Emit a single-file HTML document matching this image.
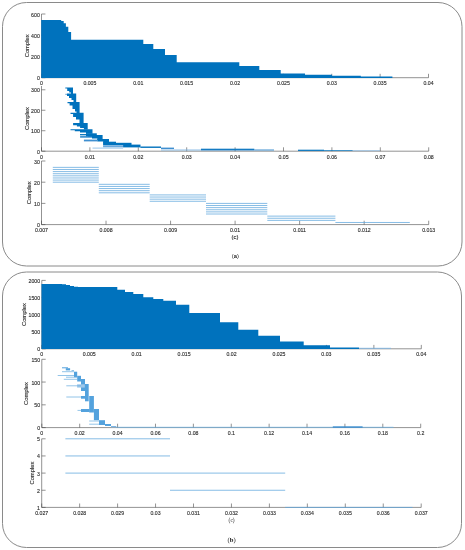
<!DOCTYPE html>
<html><head><meta charset="utf-8"><title>Figure</title>
<style>
html,body{margin:0;padding:0;background:#fff;}
svg{display:block}
.t{font-family:"Liberation Sans",sans-serif;font-size:5.8px;fill:#2a2a2a;stroke:#2a2a2a;stroke-width:0.12px;}
.yl{font-family:"Liberation Sans",sans-serif;font-size:5.8px;fill:#2a2a2a;stroke:#2a2a2a;stroke-width:0.12px;}
.s{font-family:"Liberation Serif",serif;font-size:5.4px;fill:#2a2a2a;}
.capa{font-family:"Liberation Sans",sans-serif;font-size:5.8px;fill:#222;}
.cap{font-family:"Liberation Serif",serif;font-size:6.6px;fill:#222;}
</style></head><body>
<svg width="465" height="550" viewBox="0 0 465 550">
<rect width="465" height="550" fill="#fff"/>
<rect x="2.5" y="2.5" width="459.5" height="263.5" rx="24" ry="24" fill="#fff" stroke="#8a8a8a" stroke-width="1"/>
<path d="M41.5 14V77.7H428.5" fill="none" stroke="#4a4a4a" stroke-width="0.6"/>
<path d="M41.50 77.7v-3.9M89.88 77.7v-3.9M138.25 77.7v-3.9M186.62 77.7v-3.9M235.00 77.7v-3.9M283.38 77.7v-3.9M331.75 77.7v-3.9M380.12 77.7v-3.9M428.50 77.7v-3.9M41.5 77.70h3.9M41.5 56.47h3.9M41.5 35.23h3.9M41.5 14.00h3.9" fill="none" stroke="#4a4a4a" stroke-width="0.6"/>
<text transform="translate(41.50 85.10) scale(0.9 1)" text-anchor="middle" class="t">0</text>
<text transform="translate(89.88 85.10) scale(0.9 1)" text-anchor="middle" class="t">0.005</text>
<text transform="translate(138.25 85.10) scale(0.9 1)" text-anchor="middle" class="t">0.01</text>
<text transform="translate(186.62 85.10) scale(0.9 1)" text-anchor="middle" class="t">0.015</text>
<text transform="translate(235.00 85.10) scale(0.9 1)" text-anchor="middle" class="t">0.02</text>
<text transform="translate(283.38 85.10) scale(0.9 1)" text-anchor="middle" class="t">0.025</text>
<text transform="translate(331.75 85.10) scale(0.9 1)" text-anchor="middle" class="t">0.03</text>
<text transform="translate(380.12 85.10) scale(0.9 1)" text-anchor="middle" class="t">0.035</text>
<text transform="translate(428.50 85.10) scale(0.9 1)" text-anchor="middle" class="t">0.04</text>
<text transform="translate(39.80 80.20) scale(0.9 1)" text-anchor="end" class="t">0</text>
<text transform="translate(39.80 58.97) scale(0.9 1)" text-anchor="end" class="t">200</text>
<text transform="translate(39.80 37.73) scale(0.9 1)" text-anchor="end" class="t">400</text>
<text transform="translate(39.80 16.50) scale(0.9 1)" text-anchor="end" class="t">600</text>
<text transform="translate(28.5 45.85) rotate(-90)" text-anchor="middle" class="yl">Complex</text>
<path d="M41.2 77.95V19.9H61.2V21H63.7V23.3H65.9V26.8H68.3V31.9H71.1V39.7H143.3V44H153.3V49H165V55H176.7V62.3H239.3V66H259.3V70H280.7V73.4H305V74.7H332V75.8H360.8V76.5H392.4V77.95Z" fill="#0072BD"/>
<path d="M41.5 86V151.2H428.7" fill="none" stroke="#4a4a4a" stroke-width="0.6"/>
<path d="M41.50 151.2v-3.9M89.90 151.2v-3.9M138.30 151.2v-3.9M186.70 151.2v-3.9M235.10 151.2v-3.9M283.50 151.2v-3.9M331.90 151.2v-3.9M380.30 151.2v-3.9M428.70 151.2v-3.9M41.5 151.20h3.9M41.5 130.73h3.9M41.5 110.26h3.9M41.5 89.79h3.9" fill="none" stroke="#4a4a4a" stroke-width="0.6"/>
<text transform="translate(41.50 158.60) scale(0.9 1)" text-anchor="middle" class="t">0</text>
<text transform="translate(89.90 158.60) scale(0.9 1)" text-anchor="middle" class="t">0.01</text>
<text transform="translate(138.30 158.60) scale(0.9 1)" text-anchor="middle" class="t">0.02</text>
<text transform="translate(186.70 158.60) scale(0.9 1)" text-anchor="middle" class="t">0.03</text>
<text transform="translate(235.10 158.60) scale(0.9 1)" text-anchor="middle" class="t">0.04</text>
<text transform="translate(283.50 158.60) scale(0.9 1)" text-anchor="middle" class="t">0.05</text>
<text transform="translate(331.90 158.60) scale(0.9 1)" text-anchor="middle" class="t">0.06</text>
<text transform="translate(380.30 158.60) scale(0.9 1)" text-anchor="middle" class="t">0.07</text>
<text transform="translate(428.70 158.60) scale(0.9 1)" text-anchor="middle" class="t">0.08</text>
<text transform="translate(39.80 153.70) scale(0.9 1)" text-anchor="end" class="t">0</text>
<text transform="translate(39.80 133.23) scale(0.9 1)" text-anchor="end" class="t">100</text>
<text transform="translate(39.80 112.76) scale(0.9 1)" text-anchor="end" class="t">200</text>
<text transform="translate(39.80 92.29) scale(0.9 1)" text-anchor="end" class="t">300</text>
<text transform="translate(28.5 118.60) rotate(-90)" text-anchor="middle" class="yl">Complex</text>
<path d="M65.30 87.40H73.00V93.90H71.00V92.50H69.20V91.00H67.20V88.60H65.30Z" fill="#0072BD"/>
<path d="M67.00 93.60H76.20V102.00H73.50V100.00H71.50V98.00H69.00V96.00H67.00Z" fill="#0072BD"/>
<path d="M65.30 94.40H67.00" stroke="#7fb6e3" stroke-width="1.2" fill="none"/>
<path d="M67.50 101.90H79.60V113.20H76.50V111.50H75.00V109.00H72.50V105.50H69.60V103.30H67.50Z" fill="#0072BD"/>
<path d="M70.50 112.80H83.60V123.00H79.50V119.50H76.00V117.00H73.10V114.00H70.50Z" fill="#0072BD"/>
<path d="M73.10 123.00H87.70V129.50H83.90V128.00H80.10V126.50H76.90V125.20H73.10Z" fill="#0072BD"/>
<path d="M70.50 129.30H92.50V133.80H86.00V132.50H80.00V131.20H74.80V130.20H70.50Z" fill="#0072BD"/>
<path d="M86.00 133.30H96.80V136.50H86.00Z" fill="#0072BD"/>
<path d="M80.00 134.70H88.20" stroke="#0072BD" stroke-width="1.3" fill="none"/>
<path d="M88.20 135.10H102.60V140.10H97.30V138.50H92.00V137.00H88.20Z" fill="#0072BD"/>
<path d="M80.10 136.90H92.00" stroke="#1f80c8" stroke-width="1.5" fill="none"/>
<path d="M97.30 139.00H109.00V142.60H103.20V141.50H97.30Z" fill="#0072BD"/>
<path d="M83.90 140.50H97.30" stroke="#3f8fd0" stroke-width="1.8" fill="none"/>
<rect x="103.10" y="141.70" width="12.90" height="1.70" fill="#0072BD"/>
<rect x="103.10" y="142.80" width="28.40" height="2.20" fill="#0072BD"/>
<rect x="103.10" y="145.00" width="20.00" height="2.20" fill="#3f8fd0"/>
<path d="M103.10 145.50H123.10" stroke="#cfe3f5" stroke-width="0.5" fill="none"/>
<path d="M103.10 146.60H123.10" stroke="#9cc6ea" stroke-width="0.5" fill="none"/>
<rect x="123.10" y="144.60" width="17.40" height="2.80" fill="#0072BD"/>
<rect x="140.40" y="146.50" width="20.60" height="1.40" fill="#0072BD"/>
<path d="M92.50 148.10H123.10" stroke="#7fb6e3" stroke-width="0.8" fill="none"/>
<rect x="161.00" y="147.60" width="13.00" height="1.40" fill="#3f8fd0"/>
<path d="M161.00 150.00H201.00" stroke="#7fb6e3" stroke-width="0.9" fill="none"/>
<rect x="201.00" y="148.90" width="53.30" height="1.60" fill="#2a84c9"/>
<path d="M201.00 149.20H254.30" stroke="#0072BD" stroke-width="0.7" fill="none"/>
<rect x="254.30" y="149.50" width="19.70" height="1.00" fill="#3f8fd0"/>
<path d="M298.00 150.30H324.00" stroke="#0072BD" stroke-width="1.2" fill="none"/>
<path d="M324.00 150.50H352.70" stroke="#0072BD" stroke-width="0.7" fill="none"/>
<path d="M352.70 150.60H380.00" stroke="#7fb6e3" stroke-width="0.6" fill="none"/>
<path d="M41.5 161.0V224.6H428.7" fill="none" stroke="#4a4a4a" stroke-width="0.6"/>
<path d="M41.50 224.6v-3.9M106.03 224.6v-3.9M170.57 224.6v-3.9M235.10 224.6v-3.9M299.63 224.6v-3.9M364.17 224.6v-3.9M428.70 224.6v-3.9M41.5 224.60h3.9M41.5 203.40h3.9M41.5 182.20h3.9M41.5 161.00h3.9" fill="none" stroke="#4a4a4a" stroke-width="0.6"/>
<text transform="translate(41.50 232.00) scale(0.9 1)" text-anchor="middle" class="t">0.007</text>
<text transform="translate(106.03 232.00) scale(0.9 1)" text-anchor="middle" class="t">0.008</text>
<text transform="translate(170.57 232.00) scale(0.9 1)" text-anchor="middle" class="t">0.009</text>
<text transform="translate(235.10 232.00) scale(0.9 1)" text-anchor="middle" class="t">0.01</text>
<text transform="translate(299.63 232.00) scale(0.9 1)" text-anchor="middle" class="t">0.011</text>
<text transform="translate(364.17 232.00) scale(0.9 1)" text-anchor="middle" class="t">0.012</text>
<text transform="translate(428.70 232.00) scale(0.9 1)" text-anchor="middle" class="t">0.013</text>
<text transform="translate(39.80 227.10) scale(0.9 1)" text-anchor="end" class="t">0</text>
<text transform="translate(39.80 205.90) scale(0.9 1)" text-anchor="end" class="t">10</text>
<text transform="translate(39.80 184.70) scale(0.9 1)" text-anchor="end" class="t">20</text>
<text transform="translate(39.80 163.50) scale(0.9 1)" text-anchor="end" class="t">30</text>
<text transform="translate(30.5 192.80) rotate(-90)" text-anchor="middle" class="yl">Complex</text>
<path d="M52.80 182.20H98.80" stroke="#5ea5dc" stroke-width="0.75" fill="none"/>
<path d="M52.80 180.08H98.80" stroke="#5ea5dc" stroke-width="0.75" fill="none"/>
<path d="M52.80 177.96H98.80" stroke="#5ea5dc" stroke-width="0.75" fill="none"/>
<path d="M52.80 175.84H98.80" stroke="#5ea5dc" stroke-width="0.75" fill="none"/>
<path d="M52.80 173.72H98.80" stroke="#5ea5dc" stroke-width="0.75" fill="none"/>
<path d="M52.80 171.60H98.80" stroke="#5ea5dc" stroke-width="0.75" fill="none"/>
<path d="M52.80 169.48H98.80" stroke="#5ea5dc" stroke-width="0.75" fill="none"/>
<path d="M52.80 167.36H98.80" stroke="#5ea5dc" stroke-width="0.75" fill="none"/>
<path d="M98.80 192.80H149.70" stroke="#5ea5dc" stroke-width="0.75" fill="none"/>
<path d="M98.80 190.68H149.70" stroke="#5ea5dc" stroke-width="0.75" fill="none"/>
<path d="M98.80 188.56H149.70" stroke="#5ea5dc" stroke-width="0.75" fill="none"/>
<path d="M98.80 186.44H149.70" stroke="#5ea5dc" stroke-width="0.75" fill="none"/>
<path d="M98.80 184.32H149.70" stroke="#5ea5dc" stroke-width="0.75" fill="none"/>
<path d="M149.70 201.28H206.00" stroke="#5ea5dc" stroke-width="0.75" fill="none"/>
<path d="M149.70 199.16H206.00" stroke="#5ea5dc" stroke-width="0.75" fill="none"/>
<path d="M149.70 197.04H206.00" stroke="#5ea5dc" stroke-width="0.75" fill="none"/>
<path d="M149.70 194.92H206.00" stroke="#5ea5dc" stroke-width="0.75" fill="none"/>
<path d="M206.00 214.00H267.30" stroke="#5ea5dc" stroke-width="0.75" fill="none"/>
<path d="M206.00 211.88H267.30" stroke="#5ea5dc" stroke-width="0.75" fill="none"/>
<path d="M206.00 209.76H267.30" stroke="#5ea5dc" stroke-width="0.75" fill="none"/>
<path d="M206.00 207.64H267.30" stroke="#5ea5dc" stroke-width="0.75" fill="none"/>
<path d="M206.00 205.52H267.30" stroke="#5ea5dc" stroke-width="0.75" fill="none"/>
<path d="M206.00 203.40H267.30" stroke="#5ea5dc" stroke-width="0.75" fill="none"/>
<path d="M267.30 220.36H335.40" stroke="#5ea5dc" stroke-width="0.75" fill="none"/>
<path d="M267.30 218.24H335.40" stroke="#5ea5dc" stroke-width="0.75" fill="none"/>
<path d="M267.30 216.12H335.40" stroke="#5ea5dc" stroke-width="0.75" fill="none"/>
<path d="M335.40 222.48H409.80" stroke="#5ea5dc" stroke-width="0.75" fill="none"/>
<text x="235" y="238.9" text-anchor="middle" class="t">(c)</text>
<text x="235.4" y="257.7" text-anchor="middle" class="capa">(<tspan font-weight="bold">a</tspan>)</text>
<rect x="2.5" y="272" width="459.0" height="275.5" rx="24" ry="24" fill="#fff" stroke="#8a8a8a" stroke-width="1"/>
<path d="M41.8 280.4V348.8H421.3" fill="none" stroke="#4a4a4a" stroke-width="0.6"/>
<path d="M41.80 348.8v-3.9M89.24 348.8v-3.9M136.68 348.8v-3.9M184.11 348.8v-3.9M231.55 348.8v-3.9M278.99 348.8v-3.9M326.43 348.8v-3.9M373.86 348.8v-3.9M421.30 348.8v-3.9M41.8 348.80h3.9M41.8 331.70h3.9M41.8 314.60h3.9M41.8 297.50h3.9M41.8 280.40h3.9" fill="none" stroke="#4a4a4a" stroke-width="0.6"/>
<text transform="translate(41.80 356.20) scale(0.9 1)" text-anchor="middle" class="t">0</text>
<text transform="translate(89.24 356.20) scale(0.9 1)" text-anchor="middle" class="t">0.005</text>
<text transform="translate(136.68 356.20) scale(0.9 1)" text-anchor="middle" class="t">0.01</text>
<text transform="translate(184.11 356.20) scale(0.9 1)" text-anchor="middle" class="t">0.015</text>
<text transform="translate(231.55 356.20) scale(0.9 1)" text-anchor="middle" class="t">0.02</text>
<text transform="translate(278.99 356.20) scale(0.9 1)" text-anchor="middle" class="t">0.025</text>
<text transform="translate(326.43 356.20) scale(0.9 1)" text-anchor="middle" class="t">0.03</text>
<text transform="translate(373.86 356.20) scale(0.9 1)" text-anchor="middle" class="t">0.035</text>
<text transform="translate(421.30 356.20) scale(0.9 1)" text-anchor="middle" class="t">0.04</text>
<text transform="translate(40.10 351.30) scale(0.9 1)" text-anchor="end" class="t">0</text>
<text transform="translate(40.10 334.20) scale(0.9 1)" text-anchor="end" class="t">500</text>
<text transform="translate(40.10 317.10) scale(0.9 1)" text-anchor="end" class="t">1000</text>
<text transform="translate(40.10 300.00) scale(0.9 1)" text-anchor="end" class="t">1500</text>
<text transform="translate(40.10 282.90) scale(0.9 1)" text-anchor="end" class="t">2000</text>
<text transform="translate(25.5 314.60) rotate(-90)" text-anchor="middle" class="yl">Complex</text>
<path d="M41.5 349.1V284H62V284.3H66V285H70V285.9H74V286.7H78V287H117.3V289.7H125V292H133.3V294H143.3V297.3H153.3V299H163.3V300.7H176V304.7H189.3V313H220V322.3H238.3V329.7H258.3V335.7H280V341.4H303.7V345.3H330V347.6H359V349.1Z" fill="#0072BD"/>
<path d="M359.00 348.30H391.00" stroke="#7fb6e3" stroke-width="0.9" fill="none"/>
<path d="M41.8 359.3V427.6H420.7" fill="none" stroke="#4a4a4a" stroke-width="0.6"/>
<path d="M41.80 427.6v-3.9M79.69 427.6v-3.9M117.58 427.6v-3.9M155.47 427.6v-3.9M193.36 427.6v-3.9M231.25 427.6v-3.9M269.14 427.6v-3.9M307.03 427.6v-3.9M344.92 427.6v-3.9M382.81 427.6v-3.9M420.70 427.6v-3.9M41.8 427.60h3.9M41.8 404.83h3.9M41.8 382.06h3.9M41.8 359.29h3.9" fill="none" stroke="#4a4a4a" stroke-width="0.6"/>
<text transform="translate(41.80 435.00) scale(0.9 1)" text-anchor="middle" class="t">0</text>
<text transform="translate(79.69 435.00) scale(0.9 1)" text-anchor="middle" class="t">0.02</text>
<text transform="translate(117.58 435.00) scale(0.9 1)" text-anchor="middle" class="t">0.04</text>
<text transform="translate(155.47 435.00) scale(0.9 1)" text-anchor="middle" class="t">0.06</text>
<text transform="translate(193.36 435.00) scale(0.9 1)" text-anchor="middle" class="t">0.08</text>
<text transform="translate(231.25 435.00) scale(0.9 1)" text-anchor="middle" class="t">0.1</text>
<text transform="translate(269.14 435.00) scale(0.9 1)" text-anchor="middle" class="t">0.12</text>
<text transform="translate(307.03 435.00) scale(0.9 1)" text-anchor="middle" class="t">0.14</text>
<text transform="translate(344.92 435.00) scale(0.9 1)" text-anchor="middle" class="t">0.16</text>
<text transform="translate(382.81 435.00) scale(0.9 1)" text-anchor="middle" class="t">0.18</text>
<text transform="translate(420.70 435.00) scale(0.9 1)" text-anchor="middle" class="t">0.2</text>
<text transform="translate(40.10 430.10) scale(0.9 1)" text-anchor="end" class="t">0</text>
<text transform="translate(40.10 407.33) scale(0.9 1)" text-anchor="end" class="t">50</text>
<text transform="translate(40.10 384.56) scale(0.9 1)" text-anchor="end" class="t">100</text>
<text transform="translate(40.10 361.79) scale(0.9 1)" text-anchor="end" class="t">150</text>
<text transform="translate(27.5 393.45) rotate(-90)" text-anchor="middle" class="yl">Complex</text>
<rect x="62.00" y="367.30" width="6.00" height="1.00" fill="#54a2dd"/>
<rect x="65.80" y="368.20" width="4.30" height="2.20" fill="#54a2dd"/>
<rect x="74.00" y="371.70" width="3.20" height="5.50" fill="#54a2dd"/>
<rect x="77.20" y="375.80" width="3.80" height="5.70" fill="#54a2dd"/>
<rect x="81.00" y="379.00" width="4.00" height="12.00" fill="#54a2dd"/>
<rect x="85.00" y="384.00" width="3.70" height="17.30" fill="#54a2dd"/>
<rect x="81.00" y="396.00" width="4.00" height="2.70" fill="#54a2dd"/>
<rect x="89.20" y="396.00" width="4.70" height="16.50" fill="#54a2dd"/>
<rect x="81.00" y="409.00" width="8.60" height="3.00" fill="#54a2dd"/>
<rect x="93.90" y="409.00" width="5.10" height="11.20" fill="#54a2dd"/>
<rect x="99.00" y="420.20" width="6.00" height="4.80" fill="#54a2dd"/>
<rect x="105.00" y="424.00" width="6.00" height="2.00" fill="#54a2dd"/>
<rect x="111.00" y="426.00" width="5.20" height="1.40" fill="#7fb6e3"/>
<rect x="77.10" y="384.30" width="7.70" height="3.30" fill="#9fc8ea"/>
<path d="M62.00 371.70H74.00" stroke="#6fb0e0" stroke-width="0.75" fill="none"/>
<path d="M57.70 375.50H74.00" stroke="#6fb0e0" stroke-width="0.75" fill="none"/>
<path d="M66.00 377.20H77.20" stroke="#6fb0e0" stroke-width="0.75" fill="none"/>
<path d="M63.80 379.30H77.50" stroke="#6fb0e0" stroke-width="0.75" fill="none"/>
<path d="M66.30 385.80H81.00" stroke="#6fb0e0" stroke-width="0.75" fill="none"/>
<path d="M66.30 397.00H81.00" stroke="#6fb0e0" stroke-width="0.75" fill="none"/>
<path d="M77.50 410.40H81.00" stroke="#6fb0e0" stroke-width="0.75" fill="none"/>
<path d="M89.20 421.00H99.00" stroke="#6fb0e0" stroke-width="0.75" fill="none"/>
<path d="M89.20 424.20H99.00" stroke="#6fb0e0" stroke-width="0.75" fill="none"/>
<path d="M71.50 370.50H74.00" stroke="#6fb0e0" stroke-width="0.75" fill="none"/>
<path d="M116.00 427.30H393.50" stroke="#6fb0e0" stroke-width="0.8" fill="none"/>
<path d="M332.80 427.00H362.60" stroke="#2f86cc" stroke-width="1.2" fill="none"/>
<path d="M41.7 438.8V507.4H421.2" fill="none" stroke="#4a4a4a" stroke-width="0.6"/>
<path d="M41.70 507.4v-3.9M79.65 507.4v-3.9M117.60 507.4v-3.9M155.55 507.4v-3.9M193.50 507.4v-3.9M231.45 507.4v-3.9M269.40 507.4v-3.9M307.35 507.4v-3.9M345.30 507.4v-3.9M383.25 507.4v-3.9M421.20 507.4v-3.9M41.7 507.40h3.9M41.7 490.25h3.9M41.7 473.10h3.9M41.7 455.95h3.9M41.7 438.80h3.9" fill="none" stroke="#4a4a4a" stroke-width="0.6"/>
<text transform="translate(41.70 514.80) scale(0.9 1)" text-anchor="middle" class="t">0.027</text>
<text transform="translate(79.65 514.80) scale(0.9 1)" text-anchor="middle" class="t">0.028</text>
<text transform="translate(117.60 514.80) scale(0.9 1)" text-anchor="middle" class="t">0.029</text>
<text transform="translate(155.55 514.80) scale(0.9 1)" text-anchor="middle" class="t">0.03</text>
<text transform="translate(193.50 514.80) scale(0.9 1)" text-anchor="middle" class="t">0.031</text>
<text transform="translate(231.45 514.80) scale(0.9 1)" text-anchor="middle" class="t">0.032</text>
<text transform="translate(269.40 514.80) scale(0.9 1)" text-anchor="middle" class="t">0.033</text>
<text transform="translate(307.35 514.80) scale(0.9 1)" text-anchor="middle" class="t">0.034</text>
<text transform="translate(345.30 514.80) scale(0.9 1)" text-anchor="middle" class="t">0.035</text>
<text transform="translate(383.25 514.80) scale(0.9 1)" text-anchor="middle" class="t">0.036</text>
<text transform="translate(421.20 514.80) scale(0.9 1)" text-anchor="middle" class="t">0.037</text>
<text transform="translate(40.00 509.90) scale(0.9 1)" text-anchor="end" class="t">1</text>
<text transform="translate(40.00 492.75) scale(0.9 1)" text-anchor="end" class="t">2</text>
<text transform="translate(40.00 475.60) scale(0.9 1)" text-anchor="end" class="t">3</text>
<text transform="translate(40.00 458.45) scale(0.9 1)" text-anchor="end" class="t">4</text>
<text transform="translate(40.00 441.30) scale(0.9 1)" text-anchor="end" class="t">5</text>
<text transform="translate(34 473.10) rotate(-90)" text-anchor="middle" class="yl">Complex</text>
<path d="M65.40 438.80H170.00" stroke="#5ea5dc" stroke-width="0.75" fill="none"/>
<path d="M65.40 455.95H170.00" stroke="#5ea5dc" stroke-width="0.75" fill="none"/>
<path d="M65.40 473.10H285.20" stroke="#5ea5dc" stroke-width="0.75" fill="none"/>
<path d="M170.00 490.25H285.20" stroke="#5ea5dc" stroke-width="0.75" fill="none"/>
<path d="M285.20 507.40H412.50" stroke="#5ea5dc" stroke-width="0.75" fill="none"/>
<text x="231.6" y="521.6" text-anchor="middle" class="s">(c)</text>
<text x="231.6" y="542" text-anchor="middle" class="cap">(<tspan font-weight="bold">b</tspan>)</text>
</svg>
</body></html>
